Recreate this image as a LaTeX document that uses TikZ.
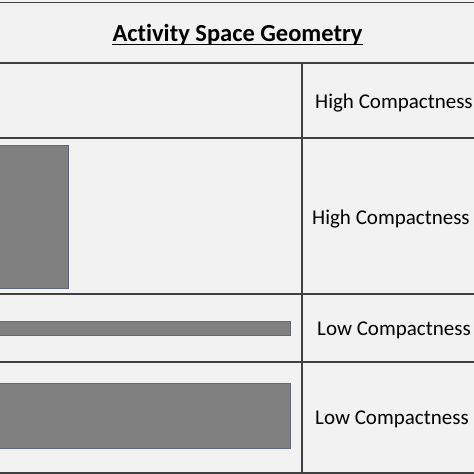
\documentclass[tikz,border=0pt]{standalone}
\usepackage{fontspec}
\setmainfont{Carlito}[Ligatures=NoCommon]
\definecolor{edgegray}{HTML}{5E6878}
\begin{document}
\begin{tikzpicture}[x=1pt,y=-1pt,
  gridline/.style={draw=black!75,line width=1.1pt},
  shapebox/.style={fill=black!50,draw=edgegray,line width=0.7pt},
  cell/.style={anchor=base west,inner sep=0pt,font=\fontsize{21}{24}\selectfont},
  headtxt/.style={anchor=base,inner sep=0pt,font=\fontsize{24.5}{28}\selectfont\bfseries}]
\useasboundingbox (0,0) rectangle (474,474);
\clip (0,0) rectangle (474,474);
\fill[black!5] (0,0) rectangle (474,474);
% grid
\coordinate (t0) at (0,2.5);   \coordinate (t1) at (474,2.5);
\coordinate (h0) at (0,63);    \coordinate (h1) at (474,63);
\coordinate (r1a) at (0,138);  \coordinate (r1b) at (474,138);
\coordinate (r2a) at (0,294);  \coordinate (r2b) at (474,294);
\coordinate (r3a) at (0,362);  \coordinate (r3b) at (474,362);
\coordinate (b0) at (0,472.5); \coordinate (b1) at (474,472.5);
\coordinate (vt) at (302,63);  \coordinate (vb) at (302,474);
\draw[gridline] (t0) -- (t1);
\draw[gridline] (h0) -- (h1);
\draw[gridline] (r1a) -- (r1b);
\draw[gridline] (r2a) -- (r2b);
\draw[gridline] (r3a) -- (r3b);
\draw[gridline,line width=2pt] (b0) -- (b1);
\draw[gridline] (vt) -- (vb);
% shapes
\draw[shapebox] (-2,145.5) rectangle (68,288);
\draw[shapebox] (-2,321.5) rectangle (290,335);
\draw[shapebox] (-2,383) rectangle (290,448);
% texts
\node[headtxt] (title) at (237.5,41.5) {Activity Space Geometry};
\draw[line width=1.3pt] ([yshift=-2.8pt]title.base west) -- ([yshift=-2.8pt]title.base east);
\node[cell] (lab1) at (315,108) {High Compactness};
\node[cell] (lab2) at (312,224) {High Compactness};
\node[cell] (lab3) at (317,335) {Low Compactness};
\node[cell] (lab4) at (315,424) {Low Compactness};
\end{tikzpicture}
\end{document}
